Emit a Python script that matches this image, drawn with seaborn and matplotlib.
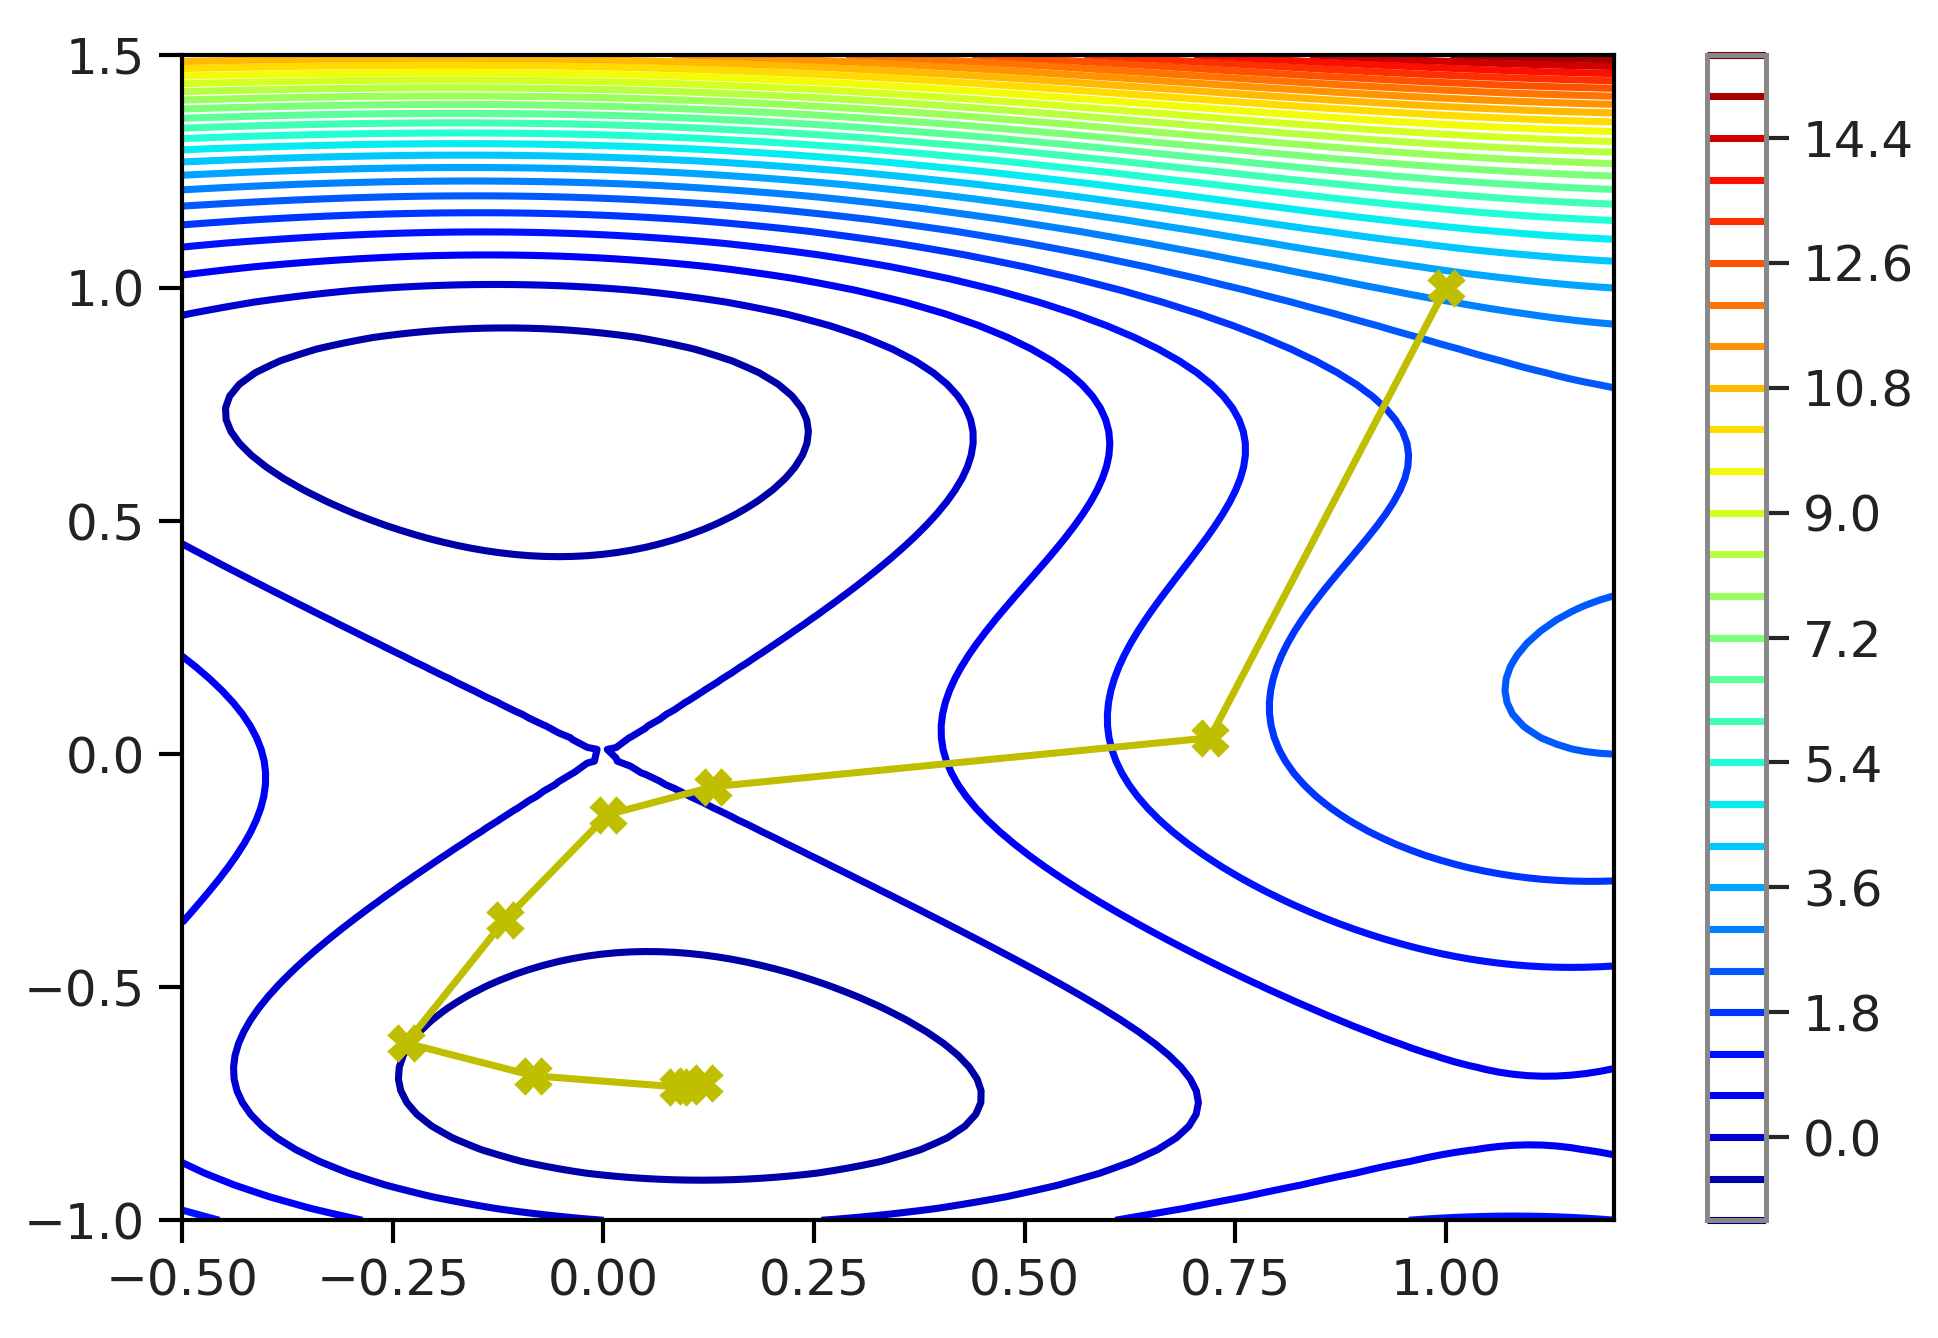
import numpy as np
import matplotlib
matplotlib.use("Agg")
import matplotlib.pyplot as plt
import seaborn as sns

#-plot window and contour levels
x_range = [-0.5, 1.2]
y_range = [-1.0, 1.5]
levels = np.round(np.arange(-1.2, 15.7, 0.6), 1)

#-optimizer path
path_x = [1.00, 0.72, 0.13, 0.005, -0.117, -0.234, -0.083, 0.088, 0.120, 0.100]
path_y = [1.00, 0.035, -0.07, -0.13, -0.356, -0.620, -0.690, -0.714, -0.706, -0.712]


#six-hump camel surface
def camel(x, y):
    return (4 - 2.1 * x**2 + x**4 / 3) * x**2 + x * y + (-4 + 4 * y**2) * y**2


sns.set_style("ticks")
plt.rcParams['font.family'] = ['DejaVu Sans']
plt.rcParams['font.size'] = 12

#coarse-ish grid like the original (gives the split at the saddle)
xx, yy = np.meshgrid(np.linspace(x_range[0], x_range[1], 100),
                     np.linspace(y_range[0], y_range[1], 100))
zz = camel(xx, yy)

fig = plt.figure(figsize=(6.46, 4.46), dpi=300)
ax = fig.add_axes([0.094, 0.088, 0.739, 0.871])
cax = fig.add_axes([0.881, 0.088, 0.030, 0.871])

cs = ax.contour(xx, yy, zz, levels=levels, cmap='jet', linewidths=1.7)
sns.lineplot(x=path_x, y=path_y, sort=False, estimator=None, color='y',
             marker='X', markersize=8, markeredgecolor='y', linewidth=1.7, ax=ax)

ax.set_xlim(x_range)
ax.set_ylim(y_range)
ax.set_xticks([-0.5, -0.25, 0.0, 0.25, 0.5, 0.75, 1.0])
ax.set_yticks([-1.0, -0.5, 0.0, 0.5, 1.0, 1.5])
for s in ax.spines.values():
    s.set_visible(True)
    s.set_color('black')
    s.set_linewidth(1.0)
ax.tick_params(colors='black', labelcolor='#222222', length=5.5, width=1)

cb = fig.colorbar(cs, cax=cax)
cb.outline.set_edgecolor('#888888')
cb.outline.set_linewidth(1.2)
cax.tick_params(labelcolor='#222222', length=5.5, width=1)

fig.savefig('out.png', dpi=300, facecolor='white')
